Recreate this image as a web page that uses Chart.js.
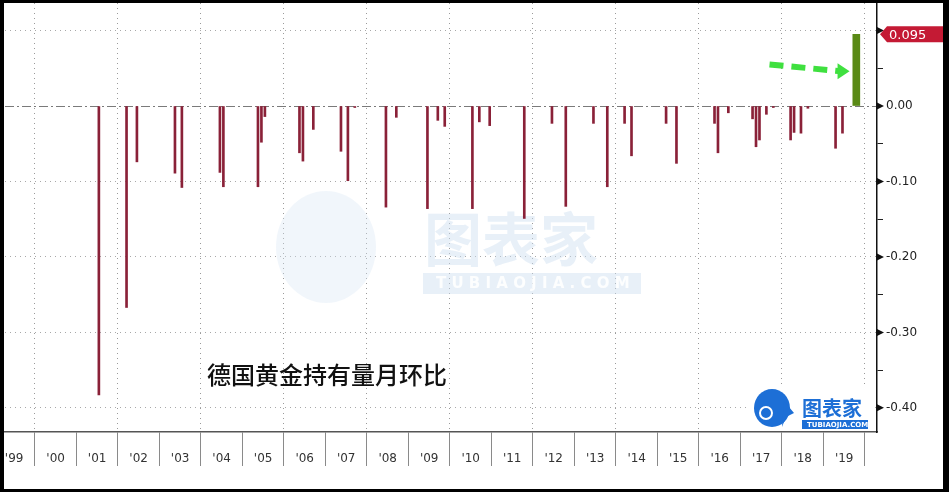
<!DOCTYPE html>
<html>
<head>
<meta charset="utf-8">
<script src="https://cdn.jsdelivr.net/npm/chart.js@4.4.1/dist/chart.umd.min.js"></script>
<style>
  html, body { margin: 0; padding: 0; background: #000; }
  #frame { position: absolute; left: 4px; top: 3px; width: 939px; height: 486px; background: #fff; }
</style>
</head>
<body>
<div id="frame"><canvas id="chart"></canvas></div>
<script>
'use strict'

// Data: month of each change and the change itself
var months = ['2001-07', '2002-03', '2002-06', '2003-05', '2003-07', '2004-06', '2004-07',
  '2005-05', '2005-06', '2005-07', '2006-05', '2006-06', '2006-09', '2007-05', '2007-07',
  '2007-09', '2008-06', '2008-09', '2009-06', '2009-09', '2009-11', '2010-07', '2010-09',
  '2010-12', '2011-10', '2012-06', '2012-10', '2013-06', '2013-10', '2014-03', '2014-05',
  '2015-03', '2015-06', '2016-05', '2016-06', '2016-09', '2017-04', '2017-05', '2017-06',
  '2017-08', '2017-10', '2018-03', '2018-04', '2018-06', '2018-08', '2019-04', '2019-06'];
var changes = [-0.383, -0.267, -0.074, -0.089, -0.108, -0.088, -0.107,
  -0.107, -0.048, -0.014, -0.062, -0.073, -0.031, -0.060, -0.099,
  -0.002, -0.134, -0.015, -0.136, -0.019, -0.027, -0.136, -0.021,
  -0.026, -0.149, -0.023, -0.133, -0.023, -0.107, -0.023, -0.066,
  -0.023, -0.076, -0.023, -0.062, -0.009, -0.017, -0.054, -0.045,
  -0.011, -0.002, -0.045, -0.035, -0.036, -0.003, -0.056, -0.036];
var lastMonth = '2019-10';
var lastChange = 0.095;
var firstYear = 1999;
var yearLabels = ["'99", "'00", "'01", "'02", "'03", "'04", "'05", "'06", "'07", "'08", "'09",
  "'10", "'11", "'12", "'13", "'14", "'15", "'16", "'17", "'18", "'19"];
var yTicks = [-0.40, -0.35, -0.30, -0.25, -0.20, -0.15, -0.10, -0.05, 0, 0.05, 0.10];
var title = '德国黄金持有量月环比';

//---------------- helpers ----------------//
function monthToX(m) {
  var p = m.split('-');
  return +p[0] + (+p[1] - 0.5) / 12;
}
function isMajor(v) {
  return Math.abs(Math.round(v * 10) - v * 10) < 1e-6;
}

var redPoints = [];
for (let i = 0; i < months.length; i++) {
  redPoints.push({ x: monthToX(months[i]), y: changes[i] });
}

// year separators and mid-year label ticks
var xTicks = [];
for (let i = 0; i < yearLabels.length; i++) {
  xTicks.push({ value: firstYear + i + 0.5 });
  xTicks.push({ value: firstYear + i + 1 });
}

//---------------- extra drawing ----------------//
var decorations = {
  id: 'decorations',
  beforeDatasetsDraw(chart) {
    let ctx = chart.ctx;
    ctx.save();
    // faint watermark
    ctx.fillStyle = 'rgba(215,229,244,0.35)';
    ctx.beginPath();
    ctx.ellipse(322, 244, 50, 56, 0, 0, Math.PI * 2);
    ctx.fill();
    ctx.fillStyle = 'rgba(205,222,240,0.45)';
    ctx.font = 'bold 58px "Noto Sans CJK SC"';
    ctx.textBaseline = 'middle';
    ctx.fillText('图表家', 420, 236);
    ctx.fillRect(419, 270, 218, 21);
    ctx.fillStyle = 'rgba(255,255,255,0.9)';
    ctx.font = 'bold 15px "DejaVu Sans"';
    ctx.fillText('T U B I A O J I A . C O M', 432, 281);
    ctx.restore();
  },
  afterDraw(chart) {
    let ctx = chart.ctx;
    let area = chart.chartArea;
    let y = chart.scales.y;
    let x = chart.scales.x;
    ctx.save();

    // triangles on the major y ticks
    ctx.fillStyle = '#111';
    y.ticks.forEach(function(t) {
      if (!isMajor(t.value)) return;
      let py = y.getPixelForValue(t.value);
      ctx.beginPath();
      ctx.moveTo(area.right, py - 3.5);
      ctx.lineTo(area.right + 7, py);
      ctx.lineTo(area.right, py + 3.5);
      ctx.closePath();
      ctx.fill();
    });

    // red tag with the last value
    let ty = y.getPixelForValue(lastChange);
    let tx = area.right + 3;
    ctx.fillStyle = '#c41a34';
    ctx.beginPath();
    ctx.moveTo(tx, ty);
    ctx.lineTo(tx + 7, ty - 8);
    ctx.lineTo(chart.width, ty - 8);
    ctx.lineTo(chart.width, ty + 8);
    ctx.lineTo(tx + 7, ty + 8);
    ctx.closePath();
    ctx.fill();
    ctx.fillStyle = '#fff';
    ctx.font = '13px "DejaVu Sans"';
    ctx.textBaseline = 'middle';
    ctx.fillText(lastChange.toFixed(3), tx + 9, ty + 1);

    // green dashed arrow
    let x1 = x.getPixelForValue(2017.7), y1 = y.getPixelForValue(0.055);
    let x2 = x.getPixelForValue(2019.58), y2 = y.getPixelForValue(0.046);
    ctx.strokeStyle = '#3fe03f';
    ctx.lineWidth = 6;
    ctx.setLineDash([14, 8]);
    ctx.beginPath();
    ctx.moveTo(x1, y1);
    ctx.lineTo(x2 - 6, y2);
    ctx.stroke();
    ctx.setLineDash([]);
    ctx.fillStyle = '#3fe03f';
    ctx.beginPath();
    ctx.moveTo(x2 - 10, y2 - 8);
    ctx.lineTo(x2 + 2, y2);
    ctx.lineTo(x2 - 10, y2 + 8);
    ctx.closePath();
    ctx.fill();

    // title text
    ctx.fillStyle = '#111';
    ctx.font = '500 24px "Noto Sans CJK SC"';
    ctx.textBaseline = 'middle';
    ctx.fillText(title, 203, 372);

    // logo bottom right
    ctx.fillStyle = '#fff';
    ctx.fillRect(746, 384, 122, 42);
    ctx.fillStyle = '#1d6fd6';
    ctx.beginPath();
    ctx.ellipse(768, 405, 18, 19, 0, 0, Math.PI * 2);
    ctx.fill();
    ctx.beginPath();
    ctx.moveTo(780, 398);
    ctx.lineTo(790, 410);
    ctx.lineTo(782, 414);
    ctx.lineTo(778, 424);
    ctx.closePath();
    ctx.fill();
    ctx.strokeStyle = '#fff';
    ctx.lineWidth = 2;
    ctx.beginPath();
    ctx.arc(762, 410, 6, 0, Math.PI * 2);
    ctx.stroke();
    ctx.fillStyle = '#1d6fd6';
    ctx.font = 'bold 20px "Noto Sans CJK SC"';
    ctx.fillText('图表家', 798, 405);
    ctx.fillRect(798, 417, 66, 9);
    ctx.fillStyle = '#fff';
    ctx.font = 'bold 7px "DejaVu Sans"';
    ctx.fillText('TUBIAOJIA.COM', 803, 422);
    ctx.restore();
  }
};

//---------------- chart ----------------//
var ctx = document.getElementById('chart').getContext('2d');
var goldChart = new Chart(ctx, {
  type: 'bar',
  data: {
    datasets: [{
      data: redPoints,
      backgroundColor: '#8a2138',
      barThickness: 2,
      grouped: false
    }, {
      data: [{ x: monthToX(lastMonth), y: lastChange }],
      backgroundColor: '#5a8a16',
      barThickness: 7,
      grouped: false
    }]
  },
  options: {
    responsive: true,
    maintainAspectRatio: false,
    animation: false,
    layout: { padding: { left: 1, top: 0, right: 0, bottom: 0 } },
    plugins: { legend: { display: false }, tooltip: { enabled: false } },
    scales: {
      x: {
        type: 'linear',
        min: 1999.28,
        max: 2020.29,
        offset: false,
        afterBuildTicks: function(scale) { scale.ticks = xTicks.map(t => ({ value: t.value })); },
        afterFit: function(scale) {
          scale.height = 57;
          scale.paddingLeft = 0;
          scale.paddingRight = 0;
        },
        grid: {
          offset: false,
          color: function(c) {
            let v = c.tick && c.tick.value;
            return (v % 2 === 0) ? '#9a9a9a' : 'rgba(0,0,0,0)';
          },
          tickColor: function(c) {
            let v = c.tick && c.tick.value;
            return (v % 1 === 0) ? '#8a8a8a' : 'rgba(0,0,0,0)';
          },
          tickLength: 34,
          tickBorderDash: [],
          lineWidth: 1
        },
        border: { display: true, color: '#555', width: 1.5, dash: [1, 4] },
        ticks: {
          autoSkip: false,
          maxRotation: 0,
          padding: -14,
          color: '#333',
          font: { family: 'DejaVu Sans', size: 12 },
          callback: function(value) {
            if (value % 1 === 0.5) return yearLabels[Math.floor(value) - firstYear];
            return '';
          }
        }
      },
      y: {
        position: 'right',
        min: -0.432,
        max: 0.1365,
        afterBuildTicks: function(scale) { scale.ticks = yTicks.map(v => ({ value: v })); },
        afterFit: function(scale) {
          scale.width = 66;
          scale.paddingTop = 0;
          scale.paddingBottom = 0;
        },
        grid: {
          color: function(c) {
            let v = c.tick && c.tick.value;
            if (v === 0) return '#7a7a7a';
            return isMajor(v) ? '#a8a8a8' : 'rgba(0,0,0,0)';
          },
          tickColor: function(c) {
            let v = c.tick && c.tick.value;
            return isMajor(v) ? 'rgba(0,0,0,0)' : '#222';
          },
          tickLength: 6,
          tickBorderDash: []
        },
        border: {
          display: true,
          color: '#111',
          width: 1.5,
          dash: function(c) {
            let v = c.tick && c.tick.value;
            return v === 0 ? [9, 3, 2, 3] : [1, 4];
          }
        },
        ticks: {
          padding: 3,
          color: '#222',
          font: { family: 'DejaVu Sans', size: 12 },
          callback: function(value) {
            if (!isMajor(value) || value > 0.05) return '';
            return value.toFixed(2);
          }
        }
      }
    }
  },
  plugins: [decorations]
});
</script>
</body>
</html>
